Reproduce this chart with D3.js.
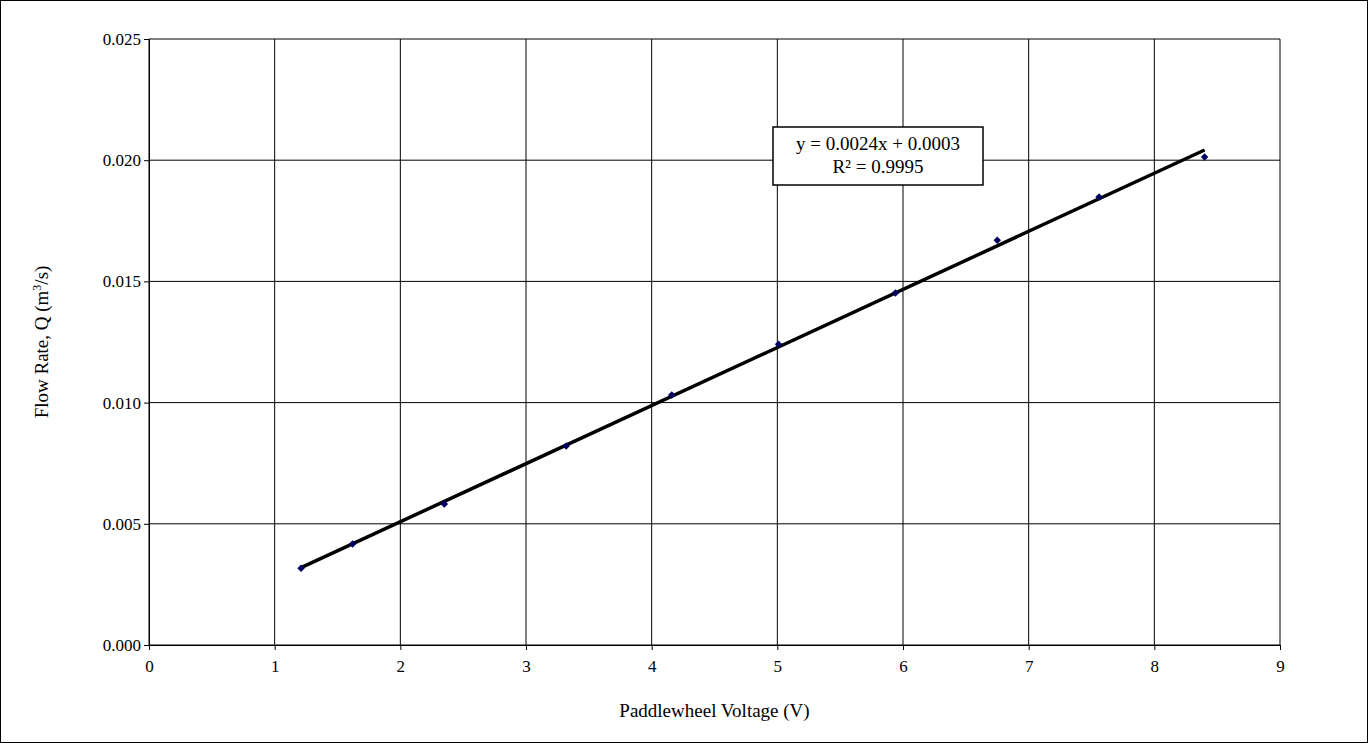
<!DOCTYPE html>
<html><head><meta charset="utf-8">
<script src="https://cdn.jsdelivr.net/npm/d3@7"></script>
<style>body{margin:0;background:#fff}svg text{font-family:"Liberation Serif","Times New Roman",serif !important}</style>
</head><body><svg id="chart"></svg>
<script>
// measured points
const voltage = [1.21, 1.62, 2.35, 3.32, 4.16, 5.01, 5.94, 6.75, 7.56, 8.40];
const flowRate = [0.00317, 0.00417, 0.00582, 0.00821, 0.01031, 0.01241, 0.01452, 0.01670, 0.01848, 0.02013];
const xTicks = [0, 1, 2, 3, 4, 5, 6, 7, 8, 9];
const yTicks = [0, 0.005, 0.010, 0.015, 0.020, 0.025];
const equationLines = ["y = 0.0024x + 0.0003", "R\u00b2 = 0.9995"];

const W = 1368, H = 743;
const margin = { top: 39, right: 88, bottom: 98, left: 149 };
const svg = d3.select("#chart").attr("width", W).attr("height", H);
svg.append("rect").attr("x", 0.5).attr("y", 0.5).attr("width", W - 1).attr("height", H - 1)
  .attr("fill", "#fff").attr("stroke", "#000");

const x = d3.scaleLinear().domain([0, 9]).range([margin.left, W - margin.right]);
const y = d3.scaleLinear().domain([0, 0.025]).range([H - margin.bottom, margin.top]);

// grid
const g = svg.append("g");
g.selectAll(".vg").data(xTicks).join("line")
  .attr("x1", d => x(d)).attr("x2", d => x(d)).attr("y1", y(0)).attr("y2", y(0.025))
  .attr("stroke", "#000").attr("stroke-width", 1);
g.selectAll(".hg").data(yTicks).join("line")
  .attr("x1", x(0)).attr("x2", x(9)).attr("y1", d => y(d)).attr("y2", d => y(d))
  .attr("stroke", "#000").attr("stroke-width", 1);

const xAxis = svg.append("g").attr("transform", `translate(0,${y(0)})`)
  .call(d3.axisBottom(x).tickValues(xTicks).tickSize(5).tickFormat(d3.format("d")));
const yAxis = svg.append("g").attr("transform", `translate(${x(0)},0)`)
  .call(d3.axisLeft(y).tickValues(yTicks).tickSize(5).tickFormat(d3.format(".3f")));
[xAxis, yAxis].forEach(a => {
  a.attr("font-family", "Liberation Serif").attr("font-size", 17);
  a.selectAll("text").attr("fill", "#000");
  a.select(".domain").attr("stroke", "#000");
});
xAxis.selectAll("text").attr("dy", "1.1em");

// least squares trendline
const mx = d3.mean(voltage), my = d3.mean(flowRate);
const slope = d3.sum(voltage.map((v, i) => (v - mx) * (flowRate[i] - my))) /
  d3.sum(voltage.map(v => (v - mx) ** 2));
const icpt = my - slope * mx;
const xs = [d3.min(voltage), d3.max(voltage)];
svg.append("line")
  .attr("x1", x(xs[0])).attr("y1", y(slope * xs[0] + icpt))
  .attr("x2", x(xs[1])).attr("y2", y(slope * xs[1] + icpt))
  .attr("stroke", "#000").attr("stroke-width", 3.5);

svg.selectAll(".pt").data(voltage).join("path")
  .attr("transform", (d, i) => `translate(${x(d)},${y(flowRate[i])})`)
  .attr("d", d3.symbol(d3.symbolSquare, 28))
  .attr("transform", (d, i) => `translate(${x(d)},${y(flowRate[i])}) rotate(45)`)
  .attr("fill", "#000060");

// equation box
const bx = 773, by = 127;
svg.append("rect").attr("x", bx).attr("y", by).attr("width", 210).attr("height", 58)
  .attr("fill", "#fff").attr("stroke", "#000").attr("stroke-width", 1.5);
svg.selectAll(".eq").data(equationLines).join("text")
  .attr("x", bx + 105).attr("y", (d, i) => by + 23 + i * 23)
  .attr("text-anchor", "middle").attr("font-size", 19).text(d => d);

svg.append("text").attr("x", x(4.5)).attr("y", 717).attr("text-anchor", "middle")
  .attr("font-size", 19).text("Paddlewheel Voltage (V)");
const yl = svg.append("text").attr("transform", `translate(48,${y(0.0125)}) rotate(-90)`)
  .attr("text-anchor", "middle").attr("font-size", 19);
yl.append("tspan").text("Flow Rate, Q (m");
yl.append("tspan").attr("dy", -7).attr("font-size", 12).text("3");
yl.append("tspan").attr("dy", 7).text("/s)");
</script></body></html>
